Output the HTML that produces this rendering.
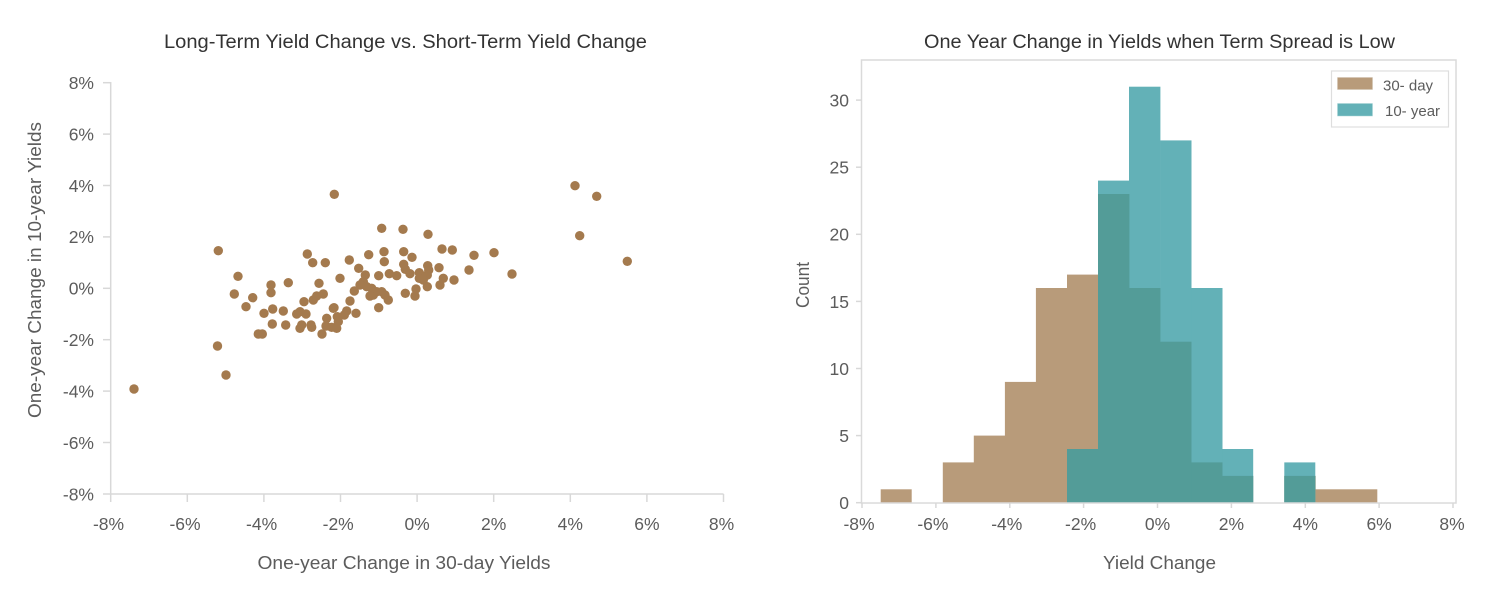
<!DOCTYPE html>
<html><head><meta charset="utf-8"><style>
html,body{margin:0;padding:0;background:#fff;}
svg{display:block;font-family:"Liberation Sans",sans-serif;}
</style></head><body>
<svg width="1500" height="596" viewBox="0 0 1500 596" xmlns="http://www.w3.org/2000/svg">
<rect width="1500" height="596" fill="#fff"/>
<!-- Titles -->
<text x="405.5" y="48" font-size="19" fill="#333" text-anchor="middle" textLength="483" lengthAdjust="spacingAndGlyphs">Long-Term Yield Change vs. Short-Term Yield Change</text>
<text x="1159.5" y="48" font-size="19" fill="#333" text-anchor="middle" textLength="471" lengthAdjust="spacingAndGlyphs">One Year Change in Yields when Term Spread is Low</text>

<!-- LEFT CHART axes -->
<g stroke="#d8d8d8" stroke-width="1.5" fill="none">
<line x1="110.7" y1="82" x2="110.7" y2="494.5"/>
<line x1="110" y1="494" x2="723.5" y2="494"/>
<line x1="103" y1="82.7" x2="110.7" y2="82.7"/>
<line x1="103" y1="134.1" x2="110.7" y2="134.1"/>
<line x1="103" y1="185.5" x2="110.7" y2="185.5"/>
<line x1="103" y1="236.9" x2="110.7" y2="236.9"/>
<line x1="103" y1="288.3" x2="110.7" y2="288.3"/>
<line x1="103" y1="339.7" x2="110.7" y2="339.7"/>
<line x1="103" y1="391.1" x2="110.7" y2="391.1"/>
<line x1="103" y1="442.5" x2="110.7" y2="442.5"/>
<line x1="103" y1="494" x2="110.7" y2="494"/>
<line x1="110.7" y1="494" x2="110.7" y2="502"/>
<line x1="187.3" y1="494" x2="187.3" y2="502"/>
<line x1="263.9" y1="494" x2="263.9" y2="502"/>
<line x1="340.5" y1="494" x2="340.5" y2="502"/>
<line x1="417.1" y1="494" x2="417.1" y2="502"/>
<line x1="493.7" y1="494" x2="493.7" y2="502"/>
<line x1="570.3" y1="494" x2="570.3" y2="502"/>
<line x1="646.9" y1="494" x2="646.9" y2="502"/>
<line x1="723.5" y1="494" x2="723.5" y2="502"/>
</g>
<g font-size="17.5" fill="#5c5c5c" text-anchor="end">
<text x="94" y="89">8%</text>
<text x="94" y="140.4">6%</text>
<text x="94" y="191.8">4%</text>
<text x="94" y="243.2">2%</text>
<text x="94" y="294.6">0%</text>
<text x="94" y="346">-2%</text>
<text x="94" y="397.4">-4%</text>
<text x="94" y="448.8">-6%</text>
<text x="94" y="500.3">-8%</text>
</g>
<g font-size="17.5" fill="#5c5c5c" text-anchor="middle">
<text x="108.5" y="530">-8%</text>
<text x="185" y="530">-6%</text>
<text x="261.6" y="530">-4%</text>
<text x="338.2" y="530">-2%</text>
<text x="417.1" y="530">0%</text>
<text x="493.7" y="530">2%</text>
<text x="570.3" y="530">4%</text>
<text x="646.9" y="530">6%</text>
<text x="721.5" y="530">8%</text>
</g>
<text x="404" y="569" font-size="18" fill="#5c5c5c" text-anchor="middle" textLength="293" lengthAdjust="spacingAndGlyphs">One-year Change in 30-day Yields</text>
<text transform="translate(41,270) rotate(-90)" font-size="18" fill="#5c5c5c" text-anchor="middle" textLength="296" lengthAdjust="spacingAndGlyphs">One-year Change in 10-year Yields</text>

<!-- scatter points -->
<g fill="#a47a4e">
<circle cx="134" cy="389" r="4.7"/>
<circle cx="217.5" cy="346" r="4.7"/>
<circle cx="226" cy="375" r="4.7"/>
<circle cx="218.3" cy="250.7" r="4.7"/>
<circle cx="238" cy="276.3" r="4.7"/>
<circle cx="234.3" cy="294" r="4.7"/>
<circle cx="252.7" cy="297.7" r="4.7"/>
<circle cx="246" cy="306.7" r="4.7"/>
<circle cx="264" cy="313.3" r="4.7"/>
<circle cx="272.7" cy="309" r="4.7"/>
<circle cx="271" cy="285" r="4.7"/>
<circle cx="271" cy="292.7" r="4.7"/>
<circle cx="288.3" cy="282.7" r="4.7"/>
<circle cx="283.3" cy="311" r="4.7"/>
<circle cx="272.3" cy="324" r="4.7"/>
<circle cx="285.7" cy="325" r="4.7"/>
<circle cx="258.3" cy="334" r="4.7"/>
<circle cx="262.3" cy="334" r="4.7"/>
<circle cx="304" cy="301.7" r="4.7"/>
<circle cx="313.3" cy="300" r="4.7"/>
<circle cx="316.7" cy="296" r="4.7"/>
<circle cx="323.3" cy="294" r="4.7"/>
<circle cx="300" cy="311.7" r="4.7"/>
<circle cx="306" cy="314" r="4.7"/>
<circle cx="296.7" cy="314" r="4.7"/>
<circle cx="301.7" cy="325" r="4.7"/>
<circle cx="300" cy="328.3" r="4.7"/>
<circle cx="311" cy="325" r="4.7"/>
<circle cx="311.7" cy="327.3" r="4.7"/>
<circle cx="322" cy="334" r="4.7"/>
<circle cx="307.3" cy="254" r="4.7"/>
<circle cx="312.7" cy="262.7" r="4.7"/>
<circle cx="325.3" cy="262.7" r="4.7"/>
<circle cx="319" cy="283.3" r="4.7"/>
<circle cx="333.3" cy="308.3" r="4.7"/>
<circle cx="326.7" cy="318.3" r="4.7"/>
<circle cx="326" cy="326" r="4.7"/>
<circle cx="331.7" cy="327.3" r="4.7"/>
<circle cx="336.7" cy="328.3" r="4.7"/>
<circle cx="334.3" cy="194.3" r="4.7"/>
<circle cx="381.7" cy="228.3" r="4.7"/>
<circle cx="403" cy="229.3" r="4.7"/>
<circle cx="428" cy="234.3" r="4.7"/>
<circle cx="442" cy="249" r="4.7"/>
<circle cx="452.3" cy="250" r="4.7"/>
<circle cx="474" cy="255.3" r="4.7"/>
<circle cx="469" cy="270" r="4.7"/>
<circle cx="454" cy="280" r="4.7"/>
<circle cx="443.3" cy="278.3" r="4.7"/>
<circle cx="440" cy="285" r="4.7"/>
<circle cx="439" cy="267.7" r="4.7"/>
<circle cx="427.7" cy="265.7" r="4.7"/>
<circle cx="428.7" cy="270" r="4.7"/>
<circle cx="427.3" cy="275" r="4.7"/>
<circle cx="427.3" cy="286.7" r="4.7"/>
<circle cx="419.3" cy="272.7" r="4.7"/>
<circle cx="419.3" cy="278.3" r="4.7"/>
<circle cx="423.3" cy="280" r="4.7"/>
<circle cx="416" cy="289" r="4.7"/>
<circle cx="415" cy="296" r="4.7"/>
<circle cx="405.3" cy="293.3" r="4.7"/>
<circle cx="403.7" cy="251.7" r="4.7"/>
<circle cx="412" cy="257.3" r="4.7"/>
<circle cx="403.7" cy="264.3" r="4.7"/>
<circle cx="405.3" cy="269.3" r="4.7"/>
<circle cx="410" cy="273.7" r="4.7"/>
<circle cx="396.7" cy="275.7" r="4.7"/>
<circle cx="389.3" cy="273.7" r="4.7"/>
<circle cx="378.7" cy="275.7" r="4.7"/>
<circle cx="384" cy="251.7" r="4.7"/>
<circle cx="384.3" cy="261.7" r="4.7"/>
<circle cx="368.7" cy="254.7" r="4.7"/>
<circle cx="349.3" cy="260" r="4.7"/>
<circle cx="358.7" cy="268.3" r="4.7"/>
<circle cx="340" cy="278.3" r="4.7"/>
<circle cx="365.3" cy="275" r="4.7"/>
<circle cx="363.3" cy="281.7" r="4.7"/>
<circle cx="360" cy="285" r="4.7"/>
<circle cx="366.7" cy="286.7" r="4.7"/>
<circle cx="371.7" cy="288.3" r="4.7"/>
<circle cx="376.7" cy="291.7" r="4.7"/>
<circle cx="381.7" cy="291.7" r="4.7"/>
<circle cx="373.3" cy="295" r="4.7"/>
<circle cx="370" cy="296" r="4.7"/>
<circle cx="385" cy="295" r="4.7"/>
<circle cx="388.3" cy="300" r="4.7"/>
<circle cx="354.3" cy="291" r="4.7"/>
<circle cx="350" cy="301" r="4.7"/>
<circle cx="378.7" cy="307.7" r="4.7"/>
<circle cx="334" cy="307.7" r="4.7"/>
<circle cx="346.7" cy="311" r="4.7"/>
<circle cx="356" cy="313.3" r="4.7"/>
<circle cx="344.3" cy="315" r="4.7"/>
<circle cx="337.3" cy="316.7" r="4.7"/>
<circle cx="338.3" cy="321.7" r="4.7"/>
<circle cx="512" cy="274" r="4.7"/>
<circle cx="494" cy="252.7" r="4.7"/>
<circle cx="575" cy="185.7" r="4.7"/>
<circle cx="596.7" cy="196.3" r="4.7"/>
<circle cx="579.7" cy="235.7" r="4.7"/>
<circle cx="627.3" cy="261.3" r="4.7"/>
</g>

<!-- RIGHT CHART -->
<!-- tan bars -->
<g fill="#b89b7a">
<rect x="880.7" y="489.3" width="31" height="13.4"/>
<rect x="942.8" y="462.4" width="31.4" height="40.3"/>
<rect x="973.8" y="435.6" width="31.4" height="67.1"/>
<rect x="1004.9" y="381.9" width="31.4" height="120.8"/>
<rect x="1035.9" y="288" width="31.4" height="214.7"/>
<rect x="1067" y="274.6" width="31.4" height="228.1"/>
<rect x="1098" y="194" width="31.4" height="308.7"/>
<rect x="1129" y="288" width="31.4" height="214.7"/>
<rect x="1160.1" y="341.7" width="31.4" height="161"/>
<rect x="1191.1" y="462.4" width="31.4" height="40.3"/>
<rect x="1222.2" y="475.9" width="31" height="26.8"/>
<rect x="1284.3" y="475.9" width="31.4" height="26.8"/>
<rect x="1315.3" y="489.3" width="62" height="13.4"/>
</g>
<!-- teal bars -->
<g fill="#63b1b7">
<rect x="1067" y="449" width="31.4" height="53.7"/>
<rect x="1098" y="180.6" width="31.4" height="322.1"/>
<rect x="1129" y="86.7" width="31.4" height="416"/>
<rect x="1160.1" y="140.4" width="31.4" height="362.3"/>
<rect x="1191.1" y="288" width="31.4" height="214.7"/>
<rect x="1222.2" y="449" width="31" height="53.7"/>
<rect x="1284.3" y="462.4" width="31" height="40.3"/>
</g>
<!-- overlap -->
<g fill="#539c98">
<rect x="1067" y="449" width="31.4" height="53.7"/>
<rect x="1098" y="194" width="31.4" height="308.7"/>
<rect x="1129" y="288" width="31.4" height="214.7"/>
<rect x="1160.1" y="341.7" width="31.4" height="161"/>
<rect x="1191.1" y="462.4" width="31.4" height="40.3"/>
<rect x="1222.2" y="475.9" width="31" height="26.8"/>
<rect x="1284.3" y="475.9" width="31" height="26.8"/>
</g>
<!-- frame -->
<rect x="861.5" y="60" width="594.5" height="443" fill="none" stroke="#dadada" stroke-width="1.5"/>
<g stroke="#d8d8d8" stroke-width="1.5">
<line x1="856" y1="502.7" x2="861.5" y2="502.7"/>
<line x1="856" y1="435.6" x2="861.5" y2="435.6"/>
<line x1="856" y1="368.5" x2="861.5" y2="368.5"/>
<line x1="856" y1="301.4" x2="861.5" y2="301.4"/>
<line x1="856" y1="234.3" x2="861.5" y2="234.3"/>
<line x1="856" y1="167.2" x2="861.5" y2="167.2"/>
<line x1="856" y1="100.1" x2="861.5" y2="100.1"/>
<line x1="862" y1="503" x2="862" y2="508"/>
<line x1="935.9" y1="503" x2="935.9" y2="508"/>
<line x1="1009.8" y1="503" x2="1009.8" y2="508"/>
<line x1="1083.6" y1="503" x2="1083.6" y2="508"/>
<line x1="1157.5" y1="503" x2="1157.5" y2="508"/>
<line x1="1231.4" y1="503" x2="1231.4" y2="508"/>
<line x1="1305.3" y1="503" x2="1305.3" y2="508"/>
<line x1="1379.1" y1="503" x2="1379.1" y2="508"/>
<line x1="1453" y1="503" x2="1453" y2="508"/>
</g>
<g font-size="17.5" fill="#5c5c5c" text-anchor="end">
<text x="849" y="509">0</text>
<text x="849" y="442">5</text>
<text x="849" y="375">10</text>
<text x="849" y="307.8">15</text>
<text x="849" y="240.7">20</text>
<text x="849" y="173.6">25</text>
<text x="849" y="106.5">30</text>
</g>
<g font-size="17.5" fill="#5c5c5c" text-anchor="middle">
<text x="859" y="530">-8%</text>
<text x="932.9" y="530">-6%</text>
<text x="1006.8" y="530">-4%</text>
<text x="1080.6" y="530">-2%</text>
<text x="1157.5" y="530">0%</text>
<text x="1231.4" y="530">2%</text>
<text x="1305.3" y="530">4%</text>
<text x="1379.1" y="530">6%</text>
<text x="1452" y="530">8%</text>
</g>
<text x="1159.5" y="569" font-size="18" fill="#5c5c5c" text-anchor="middle" textLength="113" lengthAdjust="spacingAndGlyphs">Yield Change</text>
<text transform="translate(809,285) rotate(-90)" font-size="18" fill="#5c5c5c" text-anchor="middle" textLength="46" lengthAdjust="spacingAndGlyphs">Count</text>

<!-- legend -->
<rect x="1331.5" y="71" width="117" height="56" fill="#fff" stroke="#dedede" stroke-width="1.2"/>
<rect x="1337.5" y="77.5" width="35" height="12" fill="#b89b7a" stroke="#cfc2b0" stroke-width="0.5"/>
<rect x="1337.5" y="103.5" width="35" height="12.5" fill="#63b1b7" stroke="#a9d3d6" stroke-width="0.5"/>
<text x="1383" y="90.5" font-size="15" fill="#5c5c5c">30- day</text>
<text x="1385" y="116" font-size="15" fill="#5c5c5c">10- year</text>
</svg>
</body></html>
